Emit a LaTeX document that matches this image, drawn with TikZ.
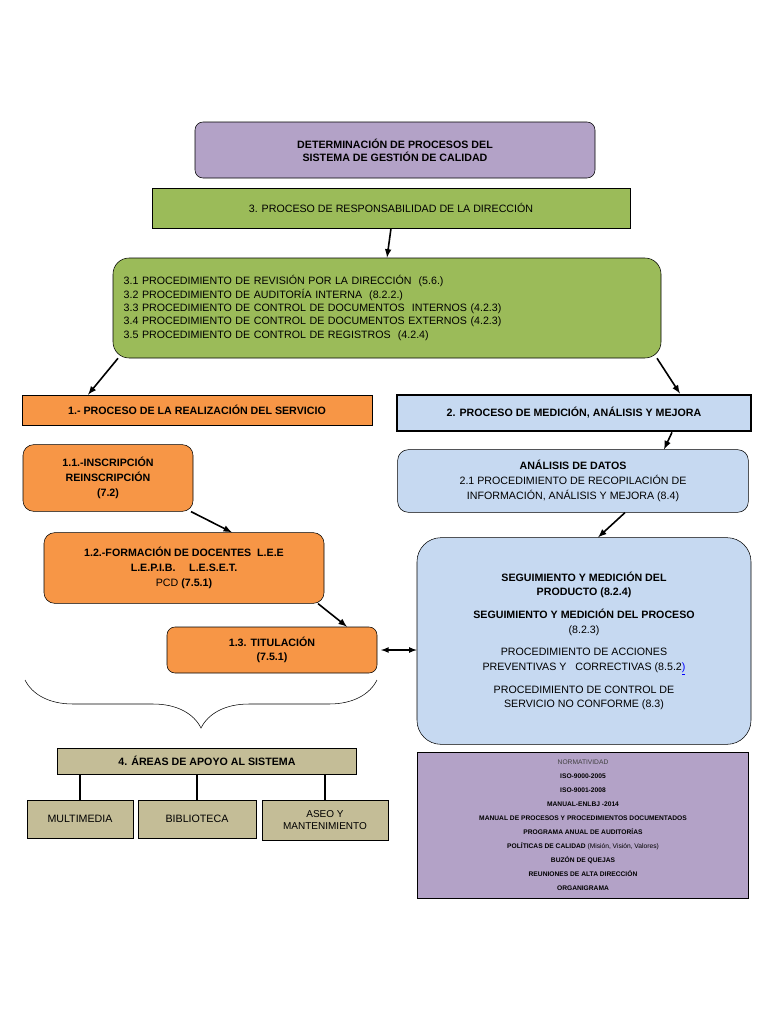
\documentclass[tikz,border=0pt]{standalone}
\usepackage{fontspec}
\setmainfont{Liberation Sans}
\usetikzlibrary{decorations.pathreplacing}
\definecolor{lila}{HTML}{B3A2C7}
\definecolor{verde}{HTML}{9BBB59}
\definecolor{naranja}{HTML}{F79646}
\definecolor{celeste}{HTML}{C6D9F1}
\definecolor{arena}{HTML}{C4BD97}
\tikzset{
  caja/.style={draw=black, inner sep=0pt, align=center, font=\fontsize{8}{10}\selectfont},
  flecha/.style={-latex, line width=1.2pt},
}
\begin{document}
\begin{tikzpicture}[x=0.75pt,y=-0.75pt]
	\useasboundingbox (0,0) rectangle (768,1024);
	
	% Cajas superiores
	\node[caja, fill=lila, rounded corners=6pt, minimum width=300pt, minimum height=42pt, font=\fontsize{8}{10}\selectfont\bfseries] (det) at (395,150) {DETERMINACIÓN DE PROCESOS DEL\\SISTEMA DE GESTIÓN DE CALIDAD};
	\node[caja, fill=verde, minimum width=358.5pt, minimum height=30pt] (resp) at (391,208) {3. PROCESO DE RESPONSABILIDAD DE LA DIRECCIÓN};
	\node[caja, fill=verde, rounded corners=12pt, minimum width=411pt, minimum height=75pt, align=left, text width=395pt] (proc) at (387,308) {3.1 PROCEDIMIENTO DE REVISIÓN POR LA DIRECCIÓN \ (5.6.)\\3.2 PROCEDIMIENTO DE AUDITORÍA INTERNA \ (8.2.2.)\\3.3 PROCEDIMIENTO DE CONTROL DE DOCUMENTOS \ INTERNOS (4.2.3)\\3.4 PROCEDIMIENTO DE CONTROL DE DOCUMENTOS EXTERNOS (4.2.3)\\3.5 PROCEDIMIENTO DE CONTROL DE REGISTROS \ (4.2.4)};
	
	% Rama izquierda
	\node[caja, fill=naranja, minimum width=262.5pt, minimum height=22.5pt, font=\fontsize{8}{10}\selectfont\bfseries] (real) at (197,410) {1.- PROCESO DE LA REALIZACIÓN DEL SERVICIO};
	\node[caja, fill=naranja, rounded corners=8pt, minimum width=127.5pt, minimum height=50pt, font=\fontsize{8}{11}\selectfont\bfseries] (insc) at (108,478) {1.1.-INSCRIPCIÓN\\REINSCRIPCIÓN\hspace*{3em}\\(7.2)};
	\node[caja, fill=naranja, rounded corners=8pt, minimum width=210pt, minimum height=53pt, font=\fontsize{8}{11}\selectfont\bfseries] (form) at (184,568) {1.2.-FORMACIÓN DE DOCENTES \ L.E.E\\L.E.P.I.B. \quad L.E.S.E.T.\\\mdseries PCD \bfseries(7.5.1)};
	\node[caja, fill=naranja, rounded corners=6pt, minimum width=157.5pt, minimum height=34.5pt, font=\fontsize{8}{11}\selectfont\bfseries] (titu) at (272,650) {1.3. TITULACIÓN\\(7.5.1)};
	\coordinate (llaveA) at (25,680);
	\coordinate (llaveB) at (377,680);
	\draw[decorate, decoration={brace, mirror, amplitude=36pt}] (llaveA) -- (llaveB);
	\node[caja, fill=arena, minimum width=224pt, minimum height=19.5pt, font=\fontsize{8}{10}\selectfont\bfseries] (apoyo) at (207,761) {4. ÁREAS DE APOYO AL SISTEMA};
	\node[caja, fill=arena, minimum width=79.5pt, minimum height=28.5pt] (multi) at (80,819) {MULTIMEDIA};
	\node[caja, fill=arena, minimum width=88.5pt, minimum height=28.5pt] (biblio) at (197,819) {BIBLIOTECA};
	\node[caja, fill=arena, minimum width=94.5pt, minimum height=30pt, font=\fontsize{7.5}{9}\selectfont] (aseo) at (325,820) {ASEO Y\\MANTENIMIENTO};
	
	% Rama derecha
	\node[caja, fill=celeste, line width=1.5pt, minimum width=266pt, minimum height=27.5pt, font=\fontsize{8}{10}\selectfont\bfseries] (medi) at (574,413) {2. PROCESO DE MEDICIÓN, ANÁLISIS Y MEJORA};
	\node[caja, fill=celeste, rounded corners=8pt, minimum width=263pt, minimum height=47pt, font=\fontsize{8}{11}\selectfont] (anal) at (573,481) {\textbf{ANÁLISIS DE DATOS}\\2.1 PROCEDIMIENTO DE RECOPILACIÓN DE\\INFORMACIÓN, ANÁLISIS Y MEJORA (8.4)};
	\node[caja, fill=celeste, rounded corners=18pt, minimum width=250.5pt, minimum height=155pt, font=\fontsize{8}{11}\selectfont] (segu) at (584,641) {\textbf{SEGUIMIENTO Y MEDICIÓN DEL}\\\textbf{PRODUCTO (8.2.4)}\\[6pt]\textbf{SEGUIMIENTO Y MEDICIÓN DEL PROCESO}\\(8.2.3)\\[6pt]PROCEDIMIENTO DE ACCIONES\\PREVENTIVAS Y \ \ CORRECTIVAS (8.5.2\textcolor{blue}{\underline{)}}\\[6pt]PROCEDIMIENTO DE CONTROL DE\\SERVICIO NO CONFORME (8.3)};
	\node[caja, fill=lila, minimum width=248pt, minimum height=109.5pt, font=\fontsize{5}{10.5}\selectfont\bfseries] (norma) at (583,825) {\mdseries\textcolor{black!75}{NORMATIVIDAD}\\ISO-9000-2005\\ISO-9001-2008\\MANUAL-ENLBJ -2014\\MANUAL DE PROCESOS Y PROCEDIMIENTOS DOCUMENTADOS\\PROGRAMA ANUAL DE AUDITORÍAS\\POLÍTICAS DE CALIDAD {\mdseries(Misión, Visión, Valores)}\\BUZÓN DE QUEJAS\\REUNIONES DE ALTA DIRECCIÓN\\ORGANIGRAMA};
	
	% Conectores
	\draw[flecha] (resp.south) -- (proc.north);
	\draw[flecha] (proc.south west -| 118,0) -- (real.north west -| 88,0);
	\draw[flecha] (proc.south east -| 657,0) -- (medi.north east -| 680,0);
	\draw[flecha] (medi.south east -| 672,0) -- (anal.north east -| 664,0);
	\draw[flecha] (anal.south east -| 625,0) -- (segu.north -| 598,0);
	\draw[flecha] (insc.south east -| 191,0) -- (form.north -| 232,0);
	\draw[flecha] (form.south east -| 318,0) -- (titu.north east -| 347,0);
	\draw[latex-latex, line width=1pt] (titu.east -| 381,0) -- (segu.west |- titu.east);
	\draw[line width=1pt] (apoyo.south -| multi.north) -- (multi.north);
	\draw[line width=1pt] (apoyo.south -| biblio.north) -- (biblio.north);
	\draw[line width=1pt] (apoyo.south -| aseo.north) -- (aseo.north);
\end{tikzpicture}
\end{document}
